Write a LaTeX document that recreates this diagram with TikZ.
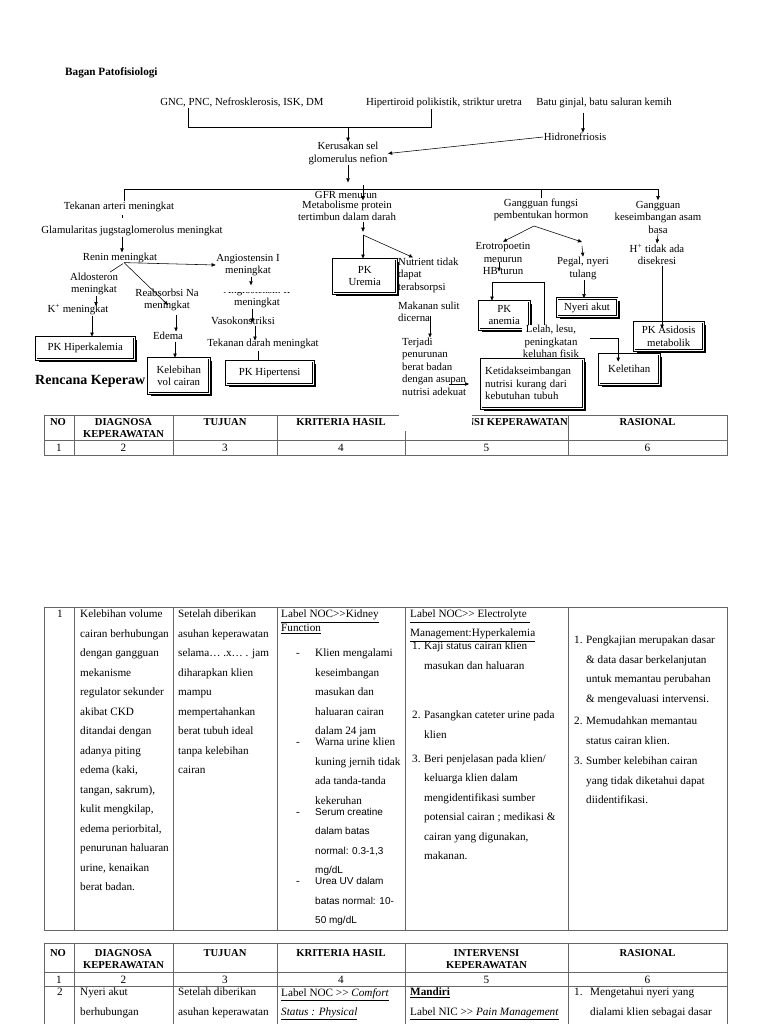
\documentclass[tikz,border=0pt]{standalone}
\usepackage{fontspec}
\setmainfont{Liberation Serif}
\setsansfont{Liberation Sans}
\usepackage{tikz}
\usetikzlibrary{arrows.meta, positioning, shadows, calc}

\newcommand{\dfont}{\fontsize{10.8}{12.5}\selectfont}
\newcommand{\tfont}{\fontsize{11.2}{19.5}\selectfont}
\newcommand{\sfont}{\fontsize{10}{19.5}\selectfont\sffamily}
\newcommand{\hfont}{\fontsize{10.6}{12}\selectfont\bfseries}
\newcommand{\fstrut}{\rule{0pt}{7.5pt}}

\begin{document}
\begin{tikzpicture}[x=1pt, y=-1pt,
    lbl/.style={align=center, inner sep=0.5pt, font=\dfont},
    note/.style={align=left, inner sep=0pt, anchor=north west, font=\dfont},
    pkbox/.style={rectangle, draw, line width=0.75pt, double, double distance=0.9pt, fill=white,
        drop shadow={shadow xshift=2.6pt, shadow yshift=-2.6pt, fill=black, opacity=1},
        align=center, inner sep=1pt, font=\dfont},
    arr/.style={-{Triangle[length=4pt, width=3.4pt]}, line width=0.55pt},
    wire/.style={line width=0.55pt},
    grid/.style={line width=0.6pt, draw=black!60},
    cell/.style={align=left, inner sep=0pt, anchor=north west, font=\tfont},
    head/.style={align=center, inner sep=0pt, font=\hfont}]

\useasboundingbox (0,0) rectangle (768,1024);
\fill[white] (0,0) rectangle (768,1024);

% Title and causes
\node[anchor=west, inner sep=0pt, font=\fontsize{11.2}{13}\selectfont\bfseries] (title) at (65,73) {Bagan Patofisiologi};
\node[lbl] (gnc) at (242,103) {GNC, PNC, Nefrosklerosis, ISK, DM};
\node[lbl] (hiper) at (444,103) {Hipertiroid polikistik, striktur uretra};
\node[lbl] (batu) at (604,103) {Batu ginjal, batu saluran kemih};
\node[lbl] (hidro) at (575,137) {Hidronefriosis};
\node[lbl] (kerusakan) at (348,153.5) {Kerusakan sel\\glomerulus nefion};

% Second level
\node[lbl] (gfr) at (346,195) {GFR menurun};
\node[lbl] (metab) at (347,211) {Metabolisme protein\\tertimbun dalam darah};
\node[lbl] (hormon) at (541,210) {Gangguan fungsi\\pembentukan hormon};
\node[lbl] (asam) at (658,217) {Gangguan\\keseimbangan asam\\basa};
\node[lbl] (tekart) at (119,207) {Tekanan arteri meningkat};
\node[lbl] (glam) at (132,231) {Glamularitas jugstaglomerolus meningkat};

% Left branch
\node[lbl] (renin) at (120,258) {Renin meningkat};
\node[lbl] (aldo) at (94,284) {Aldosteron\\meningkat};
\node[lbl] (kplus) at (78,310) {K\textsuperscript{+} meningkat};
\node[lbl] (reabs) at (167,300) {Reabsorbsi Na\\meningkat};
\node[lbl] (edema) at (168,336) {Edema};
\node[lbl] (angio1) at (248,265) {Angiostensin I\\meningkat};
\begin{scope}
  \clip (200,292.5) rectangle (310,312);
  \node[lbl] (angio2) at (257,297) {Angiostensin II\\meningkat};
\end{scope}
\node[lbl] (vaso) at (243,321) {Vasokonstriksi};
\node[lbl] (tekdar) at (263,344) {Tekanan darah meningkat};
\begin{scope}
  \clip (0,360) rectangle (147.5,400);
  \node[anchor=west, inner sep=0pt, font=\fontsize{14}{16}\selectfont\bfseries] (rencana) at (35,381) {Rencana Keperaw};
\end{scope}

\node[pkbox, minimum width=98.5, minimum height=22.5] (pkhiper) at (85.2,348.2) {PK Hiperkalemia};
\node[pkbox, minimum width=61.5, minimum height=35.5] (kelebihan) at (178.7,375.7) {Kelebihan\\vol cairan};
\node[pkbox, minimum width=87.5, minimum height=23.5] (pkhiperten) at (269.7,372.7) {PK Hipertensi};

% Middle branch
\node[note] (nutrient) at (398,257.5) {\fstrut Nutrient tidak\\dapat\\terabsorpsi};
\node[pkbox, minimum width=63.5, minimum height=34.5] (uremia) at (364.7,276.2) {PK\\Uremia};
\node[note] (makanan) at (398,301.5) {\fstrut Makanan sulit\\dicerna};
\node[note] (terjadi) at (402,337.5) {\fstrut Terjadi\\penurunan\\berat badan\\dengan asupan\\nutrisi adekuat};
\node[pkbox, minimum width=102.5, minimum height=49.5, text width=94, align=left] (ketidak) at (532.2,383.7) {Ketidakseimbangan\\nutrisi kurang dari\\kebutuhan tubuh};

% Right branch
\node[lbl] (ero) at (503,258.5) {Erotropoetin\\menurun\\HB turun};
\node[lbl] (pegal) at (583,268.5) {Pegal, nyeri\\tulang};
\node[lbl] (hplus) at (657,254.5) {H\textsuperscript{+} tidak ada\\disekresi};
\node[pkbox, minimum width=50.5, minimum height=28.5] (anemia) at (504.2,315.2) {PK\\anemia};
\node[lbl, fill=white] (lelah) at (551,341.5) {Lelah, lesu,\\peningkatan\\keluhan fisik};
\node[pkbox, minimum width=60, minimum height=18] (nyeri) at (587,307.5) {Nyeri akut};
\node[pkbox, minimum width=69.5, minimum height=28.5] (asidosis) at (668.7,336.2) {PK Asidosis\\metabolik};
\node[pkbox, minimum width=60.5, minimum height=30.5] (keletihan) at (629.2,369.2) {Keletihan};

% Connectors on top
\coordinate (t1) at (188,127);
\coordinate (t2) at (431,127);
\coordinate (b0) at (583,113);
\draw[wire] (t1 |- gnc.south) -- (t1) -- (t2) -- (t2 |- hiper.south);
\draw[arr] (kerusakan.north |- t1) -- (kerusakan.north);
\draw[arr] (b0) -- (b0 |- hidro.north);
\draw[arr] (hidro.west) -- (kerusakan.east);
\draw[arr] (kerusakan.south) -- ++(0,17);

\coordinate (busL) at (124,189);
\coordinate (busR) at (658,189);
\coordinate (g1) at (363,185);
\draw[wire] (busL) -- (busR);
\draw[wire] (busL) -- (tekart.north -| busL);
\draw[wire] (hormon.north |- busL) -- (hormon.north);
\draw[arr] (busR) -- (busR |- asam.north);
\draw[arr] (g1) -- (g1 |- metab.north);

% Left connectors
\coordinate (k1) at ($(kplus.south)+(14,0)$);
\coordinate (r1) at ($(reabs.south)+(9,3)$);
\coordinate (e1) at ($(edema.south)+(7,1)$);
\coordinate (a1) at ($(angio1.south)+(3,0)$);
\coordinate (a2) at ($(angio2.south)+(-5,0)$);
\coordinate (v1) at ($(vaso.south)+(12,0)$);
\coordinate (d1) at ($(tekdar.south)+(-5,1)$);
\draw[wire] ($(tekart.south)+(3,2)$) -- ++(0,3);
\draw[arr] ($(glam.south)+(-10,0)$) -- ($(renin.north)+(2,0)$);
\draw[wire] ($(renin.south)+(3,0)$) -- ($(aldo.north)+(16,0)$);
\draw[arr] ($(renin.south)+(4,-1)$) -- (angio1.west);
\draw[arr] ($(renin.south)+(4,-1)$) -- ($(reabs.center)+(1,5)$);
\draw[arr] ($(aldo.south)+(2,0)$) -- ($(kplus.north)+(18,2)$);
\draw[arr] (k1) -- (k1 |- pkhiper.north);
\draw[arr] (r1) -- (r1 |- edema.north);
\draw[arr] (e1) -- (e1 |- kelebihan.north);
\draw[arr] (a1) -- (a1 |- angio2.north);
\draw[arr] (a2) -- ++(0,14);
\draw[arr] (v1) -- ++(0,15);
\draw[wire] (d1) -- (d1 |- pkhiperten.north);

% Middle connectors
\coordinate (m1) at (363,235);
\coordinate (n1) at (430,316);
\coordinate (n2) at (449,384);
\draw[arr] (metab.south -| m1) -- ++(0,10);
\draw[arr] (m1) -- (m1 |- uremia.north);
\draw[arr] (m1) -- ($(nutrient.north west)+(15,0)$);
\draw[arr] (n1) -- (n1 |- terjadi.north);
\draw[arr] (n2) -- ++(20,0);

% Right connectors
\coordinate (h1) at (534,226);
\coordinate (p0) at (582,242);
\coordinate (b1) at (544,282);
\coordinate (b2) at (492,282);
\coordinate (q1) at ($(pegal.south)+(1,0)$);
\coordinate (s1) at ($(hplus.south)+(5,0)$);
\coordinate (l1) at ($(lelah.east)+(10,-3)$);
\draw[arr] (h1) -- (ero.north);
\draw[arr] (h1) -- (p0);
\draw[arr] ($(p0)+(0,4)$) -- (pegal.north);
\draw[arr] ($(ero.center)+(-4,3)$) -- ++(0,10);
\draw[wire] (b1 |- lelah.north) -- (b1) -- (b2);
\draw[arr] (b2) -- (b2 |- anemia.north);
\draw[arr] (q1) -- (q1 |- nyeri.north);
\draw[arr] (asam.south) -- (hplus.north);
\draw[arr] (s1) -- ++(0,63);
\draw[arr] (l1) -| ($(keletihan.north)+(-11,8)$);

% Table 1: header only
\draw[grid] (44,415) rectangle (727,455);
\draw[grid] (44,440) -- (727,440);
\foreach \x in {74,173,277,405,568} \draw[grid] (\x,415) -- (\x,455);
\node[head] (hano) at (58,422) {NO};
\node[head] (hadx) at (123.5,428) {DIAGNOSA\\KEPERAWATAN};
\node[head] (hatj) at (225,422) {TUJUAN};
\node[head] (hakh) at (341,422) {KRITERIA HASIL};
\node[head, anchor=east] (haiv) at (568,422) {INTERVENSI KEPERAWATAN};
\node[head] (hars) at (647.5,422) {RASIONAL};
\foreach \x/\n in {59/1,123.5/2,225/3,341/4,486.5/5,647.5/6}
  \node[font=\tfont, inner sep=0pt] (han\n) at (\x,447.5) {\n};
% text frame of the note above hides part of the header
\fill[white] (399,413.5) rectangle (472,431);

% Table 2: first diagnosis
\draw[grid] (44,607) rectangle (727,930);
\foreach \x in {74,173,277,405,568} \draw[grid] (\x,607) -- (\x,930);
\node[cell] (b1no) at (57,610) {\fstrut 1};
\node[cell] (b1dx) at (80,610) {\fstrut Kelebihan volume\\cairan berhubungan\\dengan gangguan\\mekanisme\\regulator sekunder\\akibat CKD\\ditandai dengan\\adanya piting\\edema (kaki,\\tangan, sakrum),\\kulit mengkilap,\\edema periorbital,\\penurunan haluaran\\urine, kenaikan\\berat badan.};
\node[cell] (b1tj) at (178,610) {\fstrut Setelah diberikan\\asuhan keperawatan\\selama… .x… . jam\\diharapkan klien\\mampu\\mempertahankan\\berat tubuh ideal\\tanpa kelebihan\\cairan};
\node[cell] (b1kh) at (281,610) {\fstrut\underline{Label NOC>{}>Kidney}\\[-5.5pt]\underline{Function}};
\foreach \y [count=\i] in {649,738,807.5,877}
  \node[cell] (dash\i) at (296,\y) {\fstrut -};
\node[cell] (kh1) at (315,649) {\fstrut Klien mengalami\\keseimbangan\\masukan dan\\haluaran cairan\\dalam 24 jam};
\node[cell] (kh2) at (315,738) {\fstrut Warna urine klien\\kuning jernih tidak\\ada tanda-tanda\\kekeruhan};
\node[cell, font=\sfont] (kh3) at (315,807.5) {\fstrut Serum creatine\\dalam batas\\normal: 0.3-1,3\\mg/dL};
\node[cell, font=\sfont] (kh4) at (315,877) {\fstrut Urea UV dalam\\batas normal: 10-\\50 mg/dL};
\node[cell] (b1iv) at (410,610) {\fstrut\underline{Label NOC>{}> Electrolyte\ }\\[-0.5pt]\underline{Management:Hyperkalemia}};
\foreach \y/\n in {642/1,711/2,754.5/3}
  \node[cell] (ivn\n) at (412,\y) {\fstrut\n.};
\node[cell] (iv1) at (424,642) {\fstrut Kaji status cairan klien\\masukan dan haluaran};
\node[cell] (iv2) at (424,711) {\fstrut Pasangkan cateter urine pada\\klien};
\node[cell] (iv3) at (424,754.5) {\fstrut Beri penjelasan pada klien/\\keluarga klien dalam\\mengidentifikasi sumber\\potensial cairan ; medikasi \&\\cairan yang digunakan,\\makanan.};
\foreach \y/\n in {636/1,717/2,757/3}
  \node[cell] (rsn\n) at (574,\y) {\fstrut\n.};
\node[cell] (rs1) at (586,636) {\fstrut Pengkajian merupakan dasar\\\& data dasar berkelanjutan\\untuk memantau perubahan\\\& mengevaluasi intervensi.};
\node[cell] (rs2) at (586,717) {\fstrut Memudahkan memantau\\status cairan klien.};
\node[cell] (rs3) at (586,757) {\fstrut Sumber kelebihan cairan\\yang tidak diketahui dapat\\diidentifikasi.};

% Table 3: second diagnosis
\draw[grid] (44,1030) -- (44,943) -- (727,943) -- (727,1030);
\draw[grid] (44,972) -- (727,972);
\draw[grid] (44,986) -- (727,986);
\foreach \x in {74,173,277,405,568} \draw[grid] (\x,943) -- (\x,1030);
\node[head] (hcno) at (58,953) {NO};
\node[head] (hcdx) at (123.5,959) {DIAGNOSA\\KEPERAWATAN};
\node[head] (hctj) at (225,953) {TUJUAN};
\node[head] (hckh) at (341,953) {KRITERIA HASIL};
\node[head] (hciv) at (486.5,959) {INTERVENSI\\KEPERAWATAN};
\node[head] (hcrs) at (647.5,953) {RASIONAL};
\foreach \x/\n in {59/1,123.5/2,225/3,341/4,486.5/5,647.5/6}
  \node[font=\tfont, inner sep=0pt] (hcn\n) at (\x,979.5) {\n};
\node[cell] (c2no) at (57,988) {\fstrut 2};
\node[cell] (c2dx) at (80,988) {\fstrut Nyeri akut\\berhubungan};
\node[cell] (c2tj) at (178,988) {\fstrut Setelah diberikan\\asuhan keperawatan};
\node[cell] (c2kh) at (281,988) {\fstrut\underline{Label NOC >{}> \textit{Comfort}}\\\underline{\textit{Status : Physical}}};
\node[cell] (c2iv) at (410,988) {\fstrut\underline{\textbf{Mandiri}}\\\underline{Label NIC >{}> \textit{Pain Management}}};
\node[cell] (c2rn) at (574,988) {\fstrut 1.};
\node[cell] (c2rs) at (590,988) {\fstrut Mengetahui nyeri yang\\dialami klien sebagai dasar};

\end{tikzpicture}
\end{document}
